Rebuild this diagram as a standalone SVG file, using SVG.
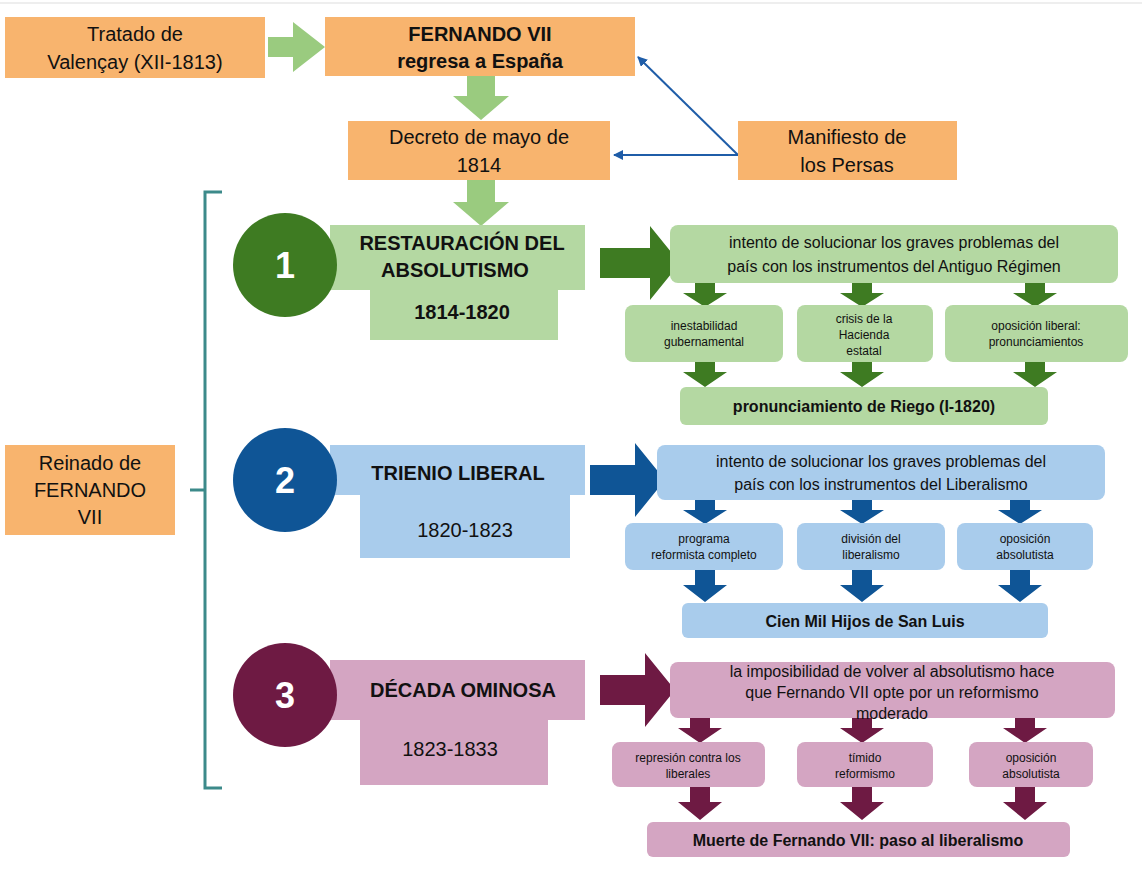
<svg xmlns="http://www.w3.org/2000/svg" width="1142" height="878" viewBox="0 0 1142 878">
<defs>
<style>
text{font-family:"Liberation Sans",Arial,sans-serif;text-anchor:middle;fill:#111}
.or{fill:#F8B46E}
.t1{font-size:20px}
.b{font-weight:bold}
.g1{fill:#B4D8A2}.g2{fill:#3E7B22}
.b1{fill:#A9CCEC}.b2{fill:#0F5596}
.p1{fill:#D4A5C2}.p2{fill:#6E1A43}
.s{font-size:12px}.m{font-size:16px}
.w{fill:#fff;font-size:36px;font-weight:bold}
</style>
<marker id="ah" markerWidth="10" markerHeight="10" refX="9" refY="5" orient="auto" markerUnits="userSpaceOnUse"><path d="M0,0 L10,5 L0,10 z" fill="#1F5DA8"/></marker>
</defs>
<rect width="1142" height="878" fill="#fff"/>
<line x1="0" y1="3" x2="1142" y2="3" stroke="#ddd"/>
<g id="connectors">
<path d="M268,37 h25 v-15 l32,25 l-32,25 v-15 h-25z" fill="#9ACB7F"/>
<path d="M467,76 h28 v20 h14 l-28,24 l-28,-24 h14z" fill="#9ACB7F"/>
<path d="M467,180 h28 v22 h14 l-28,24 l-28,-24 h14z" fill="#9ACB7F"/>
<line x1="738" y1="155" x2="638" y2="57" stroke="#1F5DA8" stroke-width="2" marker-end="url(#ah)"/>
<line x1="738" y1="155" x2="614" y2="155" stroke="#1F5DA8" stroke-width="2" marker-end="url(#ah)"/>
<path d="M222,192 h-17 v596 h17 M205,490 h-15" fill="none" stroke="#3C8A8A" stroke-width="3"/>
<g class="g2">
<path d="M600,248 h50 v-22 l30,37 l-30,37 v-22 h-50z"/>
<path d="M695,283 h20 v10 h12 l-22,14 l-22,-14 h12z"/>
<path d="M852,283 h20 v10 h12 l-22,14 l-22,-14 h12z"/>
<path d="M1025,283 h20 v10 h12 l-22,14 l-22,-14 h12z"/>
<path d="M695,362 h20 v10 h12 l-22,15 l-22,-15 h12z"/>
<path d="M852,362 h20 v10 h12 l-22,15 l-22,-15 h12z"/>
<path d="M1025,362 h20 v10 h12 l-22,15 l-22,-15 h12z"/>
</g>
<g class="b2">
<path d="M590,465 h45 v-22 l30,37 l-30,37 v-22 h-45z"/>
<path d="M695,500 h20 v10 h12 l-22,14 l-22,-14 h12z"/>
<path d="M852,500 h20 v10 h12 l-22,14 l-22,-14 h12z"/>
<path d="M1010,500 h20 v10 h12 l-22,14 l-22,-14 h12z"/>
<path d="M695,570 h20 v15 h12 l-22,17 l-22,-17 h12z"/>
<path d="M852,570 h20 v15 h12 l-22,17 l-22,-17 h12z"/>
<path d="M1010,570 h20 v15 h12 l-22,17 l-22,-17 h12z"/>
</g>
<g class="p2">
<path d="M600,675 h45 v-22 l30,37 l-30,37 v-22 h-45z"/>
<path d="M690,718 h20 v10 h12 l-22,15 l-22,-15 h12z"/>
<path d="M852,718 h20 v10 h12 l-22,15 l-22,-15 h12z"/>
<path d="M1015,718 h20 v10 h12 l-22,15 l-22,-15 h12z"/>
<path d="M690,787 h20 v15 h12 l-22,18 l-22,-18 h12z"/>
<path d="M852,787 h20 v15 h12 l-22,18 l-22,-18 h12z"/>
<path d="M1015,787 h20 v15 h12 l-22,18 l-22,-18 h12z"/>
</g>
</g>
<g id="tratado"><rect class="or" x="5" y="17" width="260" height="61"/><text class="t1" x="135" y="41">Tratado de</text><text class="t1" x="135" y="69">Valençay (XII-1813)</text></g>
<g id="fernando"><rect class="or" x="325" y="17" width="310" height="59"/><text class="t1 b" x="480" y="41">FERNANDO VII</text><text class="t1 b" x="480" y="68">regresa a España</text></g>
<g id="decreto"><rect class="or" x="348" y="121" width="262" height="59"/><text class="t1" x="479" y="144">Decreto de mayo de</text><text class="t1" x="479" y="172">1814</text></g>
<g id="manifiesto"><rect class="or" x="738" y="121" width="219" height="59"/><text class="t1" x="847" y="144">Manifiesto de</text><text class="t1" x="847" y="172">los Persas</text></g>
<g id="reinado"><rect class="or" x="5" y="445" width="170" height="90"/><text class="t1" x="90" y="470">Reinado de</text><text class="t1" x="90" y="497">FERNANDO</text><text class="t1" x="90" y="524">VII</text></g>

<g id="s1">
<path class="g1" d="M330,225 h255 v65 h-27 v50 h-188 v-50 h-40z"/>
<circle class="g2" cx="285" cy="265" r="52"/><text class="w" x="285" y="278">1</text>
<text class="t1 b" x="462" y="250">RESTAURACIÓN DEL</text><text class="t1 b" x="455" y="277">ABSOLUTISMO</text>
<text class="t1 b" x="462" y="319">1814-1820</text>
</g>
<g id="s1a"><rect class="g1" x="670" y="225" width="448" height="58" rx="8"/><text class="m" x="894" y="248">intento de solucionar los graves problemas del</text><text class="m" x="894" y="272">país con los instrumentos del Antiguo Régimen</text></g>
<g id="s1b"><rect class="g1" x="625" y="305" width="158" height="57" rx="8"/><text class="s" x="704" y="330">inestabilidad</text><text class="s" x="704" y="346">gubernamental</text></g>
<g id="s1c"><rect class="g1" x="797" y="305" width="136" height="57" rx="8"/><text class="s" x="864" y="323">crisis de la</text><text class="s" x="864" y="339">Hacienda</text><text class="s" x="864" y="355">estatal</text></g>
<g id="s1d"><rect class="g1" x="945" y="305" width="183" height="57" rx="8"/><text class="s" x="1036" y="330">oposición liberal:</text><text class="s" x="1036" y="346">pronunciamientos</text></g>
<g id="s1e"><rect class="g1" x="680" y="387" width="368" height="38" rx="6"/><text class="m b" x="864" y="412">pronunciamiento de Riego (I-1820)</text></g>

<g id="s2">
<path class="b1" d="M330,445 h255 v50 h-15 v63 h-210 v-63 h-30z"/>
<circle class="b2" cx="285" cy="480" r="52"/><text class="w" x="285" y="493">2</text>
<text class="t1 b" x="458" y="480">TRIENIO LIBERAL</text>
<text class="t1" x="465" y="537">1820-1823</text>
</g>
<g id="s2a"><rect class="b1" x="657" y="445" width="448" height="55" rx="8"/><text class="m" x="881" y="467">intento de solucionar los graves problemas del</text><text class="m" x="881" y="490">país con los instrumentos del Liberalismo</text></g>
<g id="s2b"><rect class="b1" x="625" y="523" width="158" height="47" rx="8"/><text class="s" x="704" y="543">programa</text><text class="s" x="704" y="559">reformista completo</text></g>
<g id="s2c"><rect class="b1" x="797" y="523" width="148" height="47" rx="8"/><text class="s" x="871" y="543">división del</text><text class="s" x="871" y="559">liberalismo</text></g>
<g id="s2d"><rect class="b1" x="957" y="523" width="136" height="47" rx="8"/><text class="s" x="1025" y="543">oposición</text><text class="s" x="1025" y="559">absolutista</text></g>
<g id="s2e"><rect class="b1" x="682" y="603" width="366" height="35" rx="6"/><text class="m b" x="865" y="627">Cien Mil Hijos de San Luis</text></g>

<g id="s3">
<path class="p1" d="M330,660 h255 v60 h-37 v65 h-188 v-65 h-30z"/>
<circle class="p2" cx="285" cy="695" r="52"/><text class="w" x="285" y="708">3</text>
<text class="t1 b" x="463" y="697">DÉCADA OMINOSA</text>
<text class="t1" x="450" y="756">1823-1833</text>
</g>
<g id="s3a"><rect class="p1" x="670" y="662" width="445" height="56" rx="8"/><text class="m" x="892" y="677">la imposibilidad de volver al absolutismo hace</text><text class="m" x="892" y="698">que Fernando VII opte por un reformismo</text><text class="m" x="892" y="719">moderado</text></g>
<g id="s3b"><rect class="p1" x="612" y="742" width="153" height="45" rx="8"/><text class="s" x="688" y="762">represión contra los</text><text class="s" x="688" y="778">liberales</text></g>
<g id="s3c"><rect class="p1" x="797" y="742" width="136" height="45" rx="8"/><text class="s" x="865" y="762">tímido</text><text class="s" x="865" y="778">reformismo</text></g>
<g id="s3d"><rect class="p1" x="969" y="742" width="124" height="45" rx="8"/><text class="s" x="1031" y="762">oposición</text><text class="s" x="1031" y="778">absolutista</text></g>
<g id="s3e"><rect class="p1" x="647" y="822" width="423" height="35" rx="6"/><text class="m b" x="858" y="846">Muerte de Fernando VII: paso al liberalismo</text></g>
</svg>
